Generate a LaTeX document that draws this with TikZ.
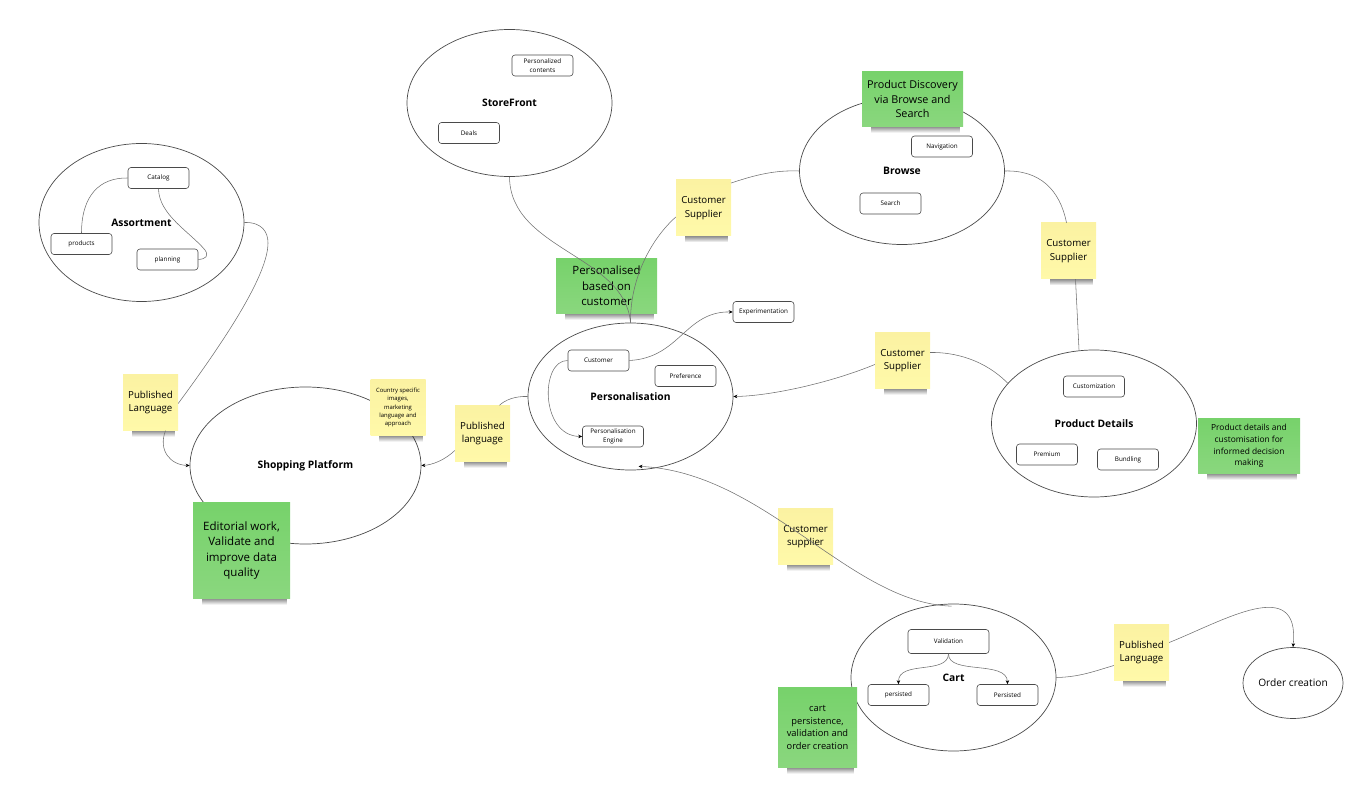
\documentclass[tikz,border=0pt]{standalone}
\usepackage{fontspec}
\setmainfont{Open Sans}
\usepackage{tikz}
\usetikzlibrary{arrows.meta,shapes.geometric,fadings}
\definecolor{edgegray}{HTML}{707070}
\definecolor{ringgray}{HTML}{4A4A4A}
\definecolor{stickytop}{HTML}{FBF2A2}
\definecolor{stickybot}{HTML}{FFF9A9}
\definecolor{leaftop}{HTML}{77D26B}
\definecolor{leafbot}{HTML}{8AD77E}

\begin{document}
\begin{tikzpicture}[
x=1pt,y=-1pt,
context/.style={draw=ringgray,ellipse,line width=.7pt,inner sep=0pt,minimum width=205pt,minimum height=147pt,font=\fontsize{10.3}{14}\selectfont\bfseries},
subbox/.style={draw=ringgray,rounded corners=3pt,line width=.6pt,inner sep=0pt,minimum width=61pt,minimum height=21pt,align=center,font=\fontsize{6.3}{9}\selectfont},
sticky/.style={top color=stickytop,bottom color=stickybot,inner sep=0pt,minimum width=55pt,minimum height=56pt,align=center,font=\fontsize{9.7}{13.5}\selectfont},
leaf/.style={top color=leaftop,bottom color=leafbot,inner sep=0pt,align=center},
link/.style={draw=edgegray,line width=.55pt},
oneway/.style={link,-{Stealth[black,length=4pt,width=3.5pt]}}]
    \useasboundingbox (0,0) rectangle (1358,786);

    % Draw contexts
    \node[context,minimum height=158pt] (assortment) at (141.5,222.5) {Assortment};
    \node[context] (storefront) at (509.5,103) {StoreFront};
    \node[context] (browse) at (902,171) {Browse};
    \node[context] (details) at (1094,423.5) {Product Details};
    \node[context] (perso) at (630.5,396.5) {Personalisation};
    \node[context,minimum width=231pt,minimum height=157pt] (shopping) at (305.5,465.5) {Shopping Platform};
    \node[context] (cart) at (953.5,677.5) {Cart};
    \node[context,minimum width=100pt,minimum height=71pt,font=\fontsize{10.2}{14}\selectfont] (order) at (1293,683) {Order creation};

    % Inner boxes
    \node[subbox] (catalog) at (158.5,178) {Catalog};
    \node[subbox] (products) at (81.5,244) {products};
    \node[subbox] (planning) at (167.5,259.5) {planning};
    \node[subbox] (contents) at (542.5,65.5) {Personalized\\contents};
    \node[subbox] (deals) at (469,133) {Deals};
    \node[subbox] (navigation) at (942,146.5) {Navigation};
    \node[subbox] (search) at (890.5,203.5) {Search};
    \node[subbox] (customer) at (598.5,360.5) {Customer};
    \node[subbox] (preference) at (685.5,376) {Preference};
    \node[subbox] (engine) at (613,436.5) {Personalisation\\Engine};
    \node[subbox] (experiment) at (763.5,312) {Experimentation};
    \node[subbox] (customization) at (1094,386.5) {Customization};
    \node[subbox] (premium) at (1047,454.5) {Premium};
    \node[subbox] (bundling) at (1128,459.5) {Bundling};
    \node[subbox,minimum width=81pt,minimum height=24pt] (validation) at (948.5,641.5) {Validation};
    \node[subbox] (persistedA) at (898.5,695) {persisted};
    \node[subbox] (persistedB) at (1007.5,695) {Persisted};

    % Yellow notes
    \node[sticky] (noteC) at (703.5,208) {Customer\\Supplier};
    \node[sticky] (noteD) at (1068.5,251) {Customer\\Supplier};
    \node[sticky] (noteE) at (902.5,360.5) {Customer\\Supplier};
    \node[sticky] (noteG) at (805.5,536.5) {Customer\\supplier};
    \node[sticky] (noteA) at (150.5,402.5) {Published\\Language};
    \node[sticky] (noteB) at (482.5,433.5) {Published\\language};
    \node[sticky] (noteF) at (1141.5,652.5) {Published\\Language};
    \node[sticky,font=\fontsize{5.9}{8.4}\selectfont] (noteH) at (398,407.5) {Country specific\\images,\\marketing\\language and\\approach};

    % Green notes
    \node[leaf,minimum width=101pt,minimum height=55pt,font=\fontsize{11.4}{15.5}\selectfont] (leafPerso) at (606.5,286) {Personalised\\based on\\customer};
    \node[leaf,minimum width=101pt,minimum height=55pt,font=\fontsize{10.8}{14.3}\selectfont] (leafBrowse) at (912.5,99) {Product Discovery\\via Browse and\\Search};
    \node[leaf,minimum width=102pt,minimum height=55pt,font=\fontsize{8.4}{11.7}\selectfont] (leafDetails) at (1249,446) {Product details and\\customisation for\\informed decision\\making};
    \node[leaf,minimum width=97pt,minimum height=96pt,font=\fontsize{11.5}{15.5}\selectfont] (leafShop) at (241.5,550.5) {Editorial work,\\Validate and\\improve data\\quality};
    \node[leaf,minimum width=79pt,minimum height=80pt,font=\fontsize{9.3}{12.5}\selectfont] (leafCart) at (817.5,727.5) {cart\\persistence,\\validation and\\order creation};

    % Shadows under the notes
    \foreach \n in {noteA,noteB,noteC,noteD,noteE,noteF,noteG,noteH,leafPerso,leafBrowse,leafDetails,leafShop,leafCart}
        \fill[black!80,opacity=.55,path fading=south] ([xshift=9pt]\n.south west) rectangle ([xshift=-3pt,yshift=-6pt]\n.south east);

    % Connectors between contexts
    \draw[link] (assortment.east) .. controls (262,222) and (268,232) .. (268,243) .. controls (268,275) and (225,340) .. ([yshift=-1pt]noteA.east);
    \draw[oneway] ([xshift=15pt]noteA.south) .. controls (158,450) and (170,465) .. (shopping.west);
    \draw[oneway] ([yshift=-17pt]noteB.west) .. controls (445,460) and (432,465) .. (shopping.east);
    \draw[link] (perso.west) .. controls (515,396) and (505,400) .. ([xshift=17pt]noteB.north);
    \draw[link] (storefront.south) .. controls (510,250) and (625,255) .. (perso.north);
    \draw[link] ([yshift=-9pt]noteC.west) .. controls (650,240) and (630,280) .. (perso.north);
    \draw[link] ([yshift=25pt]noteC.east) .. controls (755,175) and (775,170) .. (browse.west);
    \draw[link] (browse.east) .. controls (1040,170) and (1060,190) .. ([xshift=-2pt]noteD.north);
    \draw[link] ([xshift=7pt]noteD.south) -- (details.north -| 1079,0);
    \draw[link] (details.155) .. controls (985,360) and (955,352) .. ([yshift=8pt]noteE.east);
    \draw[oneway] ([yshift=-4pt]noteE.west) .. controls (830,383) and (770,396) .. (perso.east);
    \draw[oneway] ([xshift=-2pt,yshift=-2.5pt]cart.north) .. controls (850,603) and (765,472) .. ([xshift=8pt,yshift=4pt]perso.south);
    \draw[link] (cart.east) .. controls (1080,677) and (1095,671) .. ([yshift=-13pt]noteF.west);
    \draw[oneway] ([yshift=10pt]noteF.east) .. controls (1225,620) and (1300,575) .. (order.north);

    % Connectors inside contexts
    \draw[oneway] (customer.east) .. controls (680,358) and (685,311) .. (experiment.west);
    \draw[oneway] (customer.west) .. controls (540,360) and (540,436) .. (engine.west);
    \draw[link] (catalog.west) .. controls (100,177.5) and (81.5,195) .. (products.north);
    \draw[link] (catalog.south) .. controls (159,215) and (190,232) .. (205,250) .. controls (209,256) and (206,259) .. (planning.east);
    \draw[oneway] (validation.south) .. controls (948,675) and (898,660) .. (persistedA.north);
    \draw[oneway] (validation.south) .. controls (948,675) and (1007,660) .. (persistedB.north);
\end{tikzpicture}
\end{document}
